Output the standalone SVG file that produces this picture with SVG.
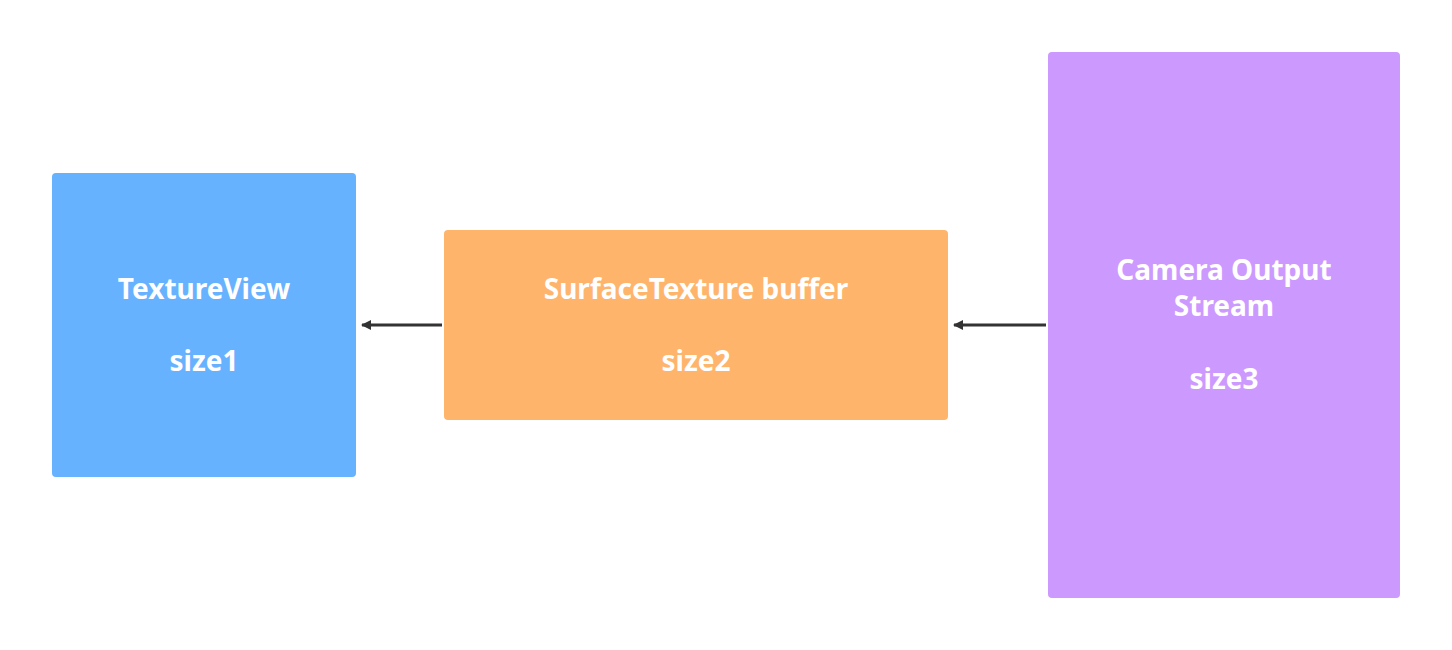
<svg xmlns="http://www.w3.org/2000/svg" width="1452" height="650" viewBox="0 0 1452 650">
<style>
.t{font-family:"Noto Sans","Liberation Sans",sans-serif;font-weight:bold;font-size:28px;fill:#fff;text-anchor:middle}
.c{stroke:#333;stroke-width:3;fill:none}
</style>
<defs><marker id="a" markerWidth="10" markerHeight="10" refX="9" refY="5" orient="auto" markerUnits="userSpaceOnUse" viewBox="0 0 10 10"><path d="M0,0L10,5L0,10z" fill="#333"/></marker></defs>
<rect width="1452" height="650" fill="#fff"/>
<g id="n1"><rect x="52" y="173" width="304" height="304" rx="4" fill="#66b2ff"/><text class="t" x="204" y="299">TextureView</text><text class="t" x="204" y="371">size1</text></g>
<g id="n2"><rect x="444" y="230" width="504" height="190" rx="4" fill="#ffb46b"/><text class="t" x="696" y="299">SurfaceTexture buffer</text><text class="t" x="696" y="371">size2</text></g>
<g id="n3"><rect x="1048" y="52" width="352" height="546" rx="4" fill="#cc99ff"/><text class="t" x="1224" y="280">Camera Output</text><text class="t" x="1224" y="316">Stream</text><text class="t" x="1224" y="389">size3</text></g>
<g id="connectors">
<line class="c" x1="442" y1="325" x2="362" y2="325" marker-end="url(#a)"/>
<line class="c" x1="1046" y1="325" x2="954" y2="325" marker-end="url(#a)"/>
</g>
</svg>
